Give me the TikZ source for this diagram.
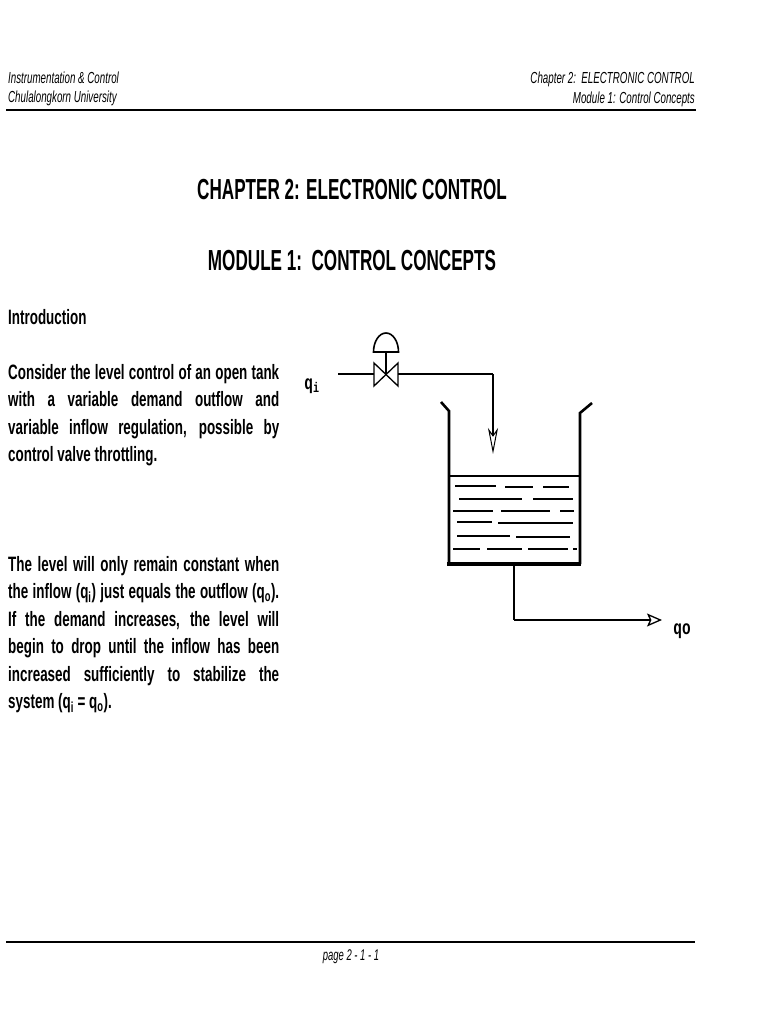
\documentclass[tikz,border=0pt]{standalone}
\usepackage{fontspec}
\usepackage{pgf,tikz}
\usetikzlibrary{arrows.meta}
\setmainfont{Liberation Sans}
\newfontfamily\titlefont{Liberation Sans}[FakeStretch=0.59,BoldFont={Liberation Sans Bold}]
\newfontfamily\bodyfont{Liberation Sans}[FakeStretch=0.645,BoldFont={Liberation Sans Bold}]
\newfontfamily\headfont{Liberation Sans}[FakeStretch=0.61]
\newfontfamily\flowfont{Liberation Mono}[FakeStretch=0.72]
\hyphenpenalty=10000
\tolerance=9999

\tikzset{
  title/.style={inner sep=0pt,font=\titlefont\fontsize{29}{32}\selectfont\bfseries},
  body/.style={inner sep=0pt,anchor=north west,text width=271pt,align=justify,font=\bodyfont\fontsize{20.8}{27.5}\selectfont\bfseries},
  intro/.style={inner sep=0pt,anchor=west,font=\bodyfont\fontsize{20.8}{27.5}\selectfont\bfseries},
  head/.style={inner sep=0pt,font=\headfont\fontsize{16}{20}\selectfont\itshape},
  flow/.style={inner sep=0pt,font=\flowfont\fontsize{20}{22}\selectfont\bfseries},
  pipe/.style={line width=2.5pt},
  thinpipe/.style={line width=1.6pt},
  wall/.style={line width=2.6pt},
  streak/.style={line width=1.4pt}
}

\begin{document}
\begin{tikzpicture}[x=1pt,y=-1pt]
  \useasboundingbox (0,0) rectangle (768,1024);

  %%%%%%%%%%%%%%%%%%%%%% PAGE HEAD %%%%%%%%%%%%%%%%%%%%%%
  \node[head,anchor=west] (inst) at (8,78) {Instrumentation \& Control};
  \node[head,anchor=west] (univ) at (8,98) {Chulalongkorn University};
  \node[head,anchor=east] (chap) at (695,79) {Chapter 2:\ \ ELECTRONIC CONTROL};
  \node[head,anchor=east] (modu) at (695,99) {Module 1: Control Concepts};
  \draw[line width=2.4pt] (6,110) -- (696,110);

  \node[title] (chapter) at (352,190) {CHAPTER 2: ELECTRONIC CONTROL};
  \node[title] (module) at (352,261) {MODULE 1:\ \ CONTROL CONCEPTS};

  %%%%%%%%%%%%%%%%%%%%%% TEXT %%%%%%%%%%%%%%%%%%%%%%
  \node[intro] (intro) at (8,317) {Introduction};
  \node[body] (para_1) at (8,364) {Consider the level control of an open tank\linebreak
    with a variable demand outflow and\linebreak
    variable inflow regulation, possible by\linebreak
    control valve throttling.};
  \node[body] (para_2) at (8,556) {The level will only remain constant when\linebreak
    the inflow (q\textsubscript{i}) just equals the outflow (q\textsubscript{o}).\linebreak
    If the demand increases, the level will\linebreak
    begin to drop until the inflow has been\linebreak
    increased sufficiently to stabilize the\linebreak
    system (q\textsubscript{i} = q\textsubscript{o}).};

  %%%%%%%%%%%%%%%%%%%%%% VALVE AND PIPES %%%%%%%%%%%%%%%%%%%%%%
  \coordinate (in_end) at (338,374);
  \coordinate (valve) at (386,374);
  \coordinate (val_l) at (374,374);
  \coordinate (val_r) at (398,374);
  \coordinate (bend_1) at (493,374);
  \coordinate (in_tip) at (493,454);
  \coordinate (tap) at (514,565);
  \coordinate (bend_2) at (514,620);
  \coordinate (out_tip) at (662,620);

  \draw[pipe] (in_end) -- (val_l);
  \draw[pipe] (val_r) -- (bend_1);
  \draw[thinpipe] (bend_1) -- (493,430);
  \draw[line width=1.3pt,-{Stealth[open,length=26pt,width=10pt,inset=7pt,line width=1pt]}] (493,430) -- (in_tip);
  \draw[line width=1.3pt] (374,363) -- (398,386) -- (398,363) -- (374,386) -- cycle;
  \draw[line width=1.2pt] (valve) -- (386,352);
  \draw[line width=1.6pt] (373.5,352) -- (398.5,352) arc[start angle=0,end angle=180,x radius=12.5pt,y radius=19pt] -- cycle;

  %%%%%%%%%%%%%%%%%%%%%% TANK %%%%%%%%%%%%%%%%%%%%%%
  \draw[wall] (441,402) -- (449,411) -- (449,564);
  \draw[wall] (592,403) -- (580,413) -- (580,564);
  \draw[line width=3.6pt] (447,564) -- (581,564);
  \draw[line width=1.4pt] (449,476) -- (580,476);

  \foreach \fromx/\tox/\levely in {455/496/486,505/533/487,543/569/487,
    459/522/499,533/573/499,
    453/493/511,501/550/511,560/574/511,
    457/492/522,498/573/523,
    457/510/536,516/570/537,
    453/480/549,487/522/549,528/568/549,573/577/549}
    \draw[streak] (\fromx,\levely) -- (\tox,\levely);

  \draw[thinpipe] (tap) -- (bend_2);
  \draw[pipe,-{Stealth[open,length=15pt,width=13pt,inset=3pt,line width=1.3pt]}] (bend_2) -- (out_tip);

  \node[flow] (q_in) at (312,386) {q\textsubscript{i}};
  \node[flow] (q_out) at (682,631) {qo};

  %%%%%%%%%%%%%%%%%%%%%% PAGE FOOT %%%%%%%%%%%%%%%%%%%%%%
  \draw[line width=2.4pt] (6,942) -- (695,942);
  \node[head,font=\headfont\fontsize{15.5}{16}\selectfont\itshape] (page) at (351,957) {page 2 - 1 - 1};
\end{tikzpicture}
\end{document}
